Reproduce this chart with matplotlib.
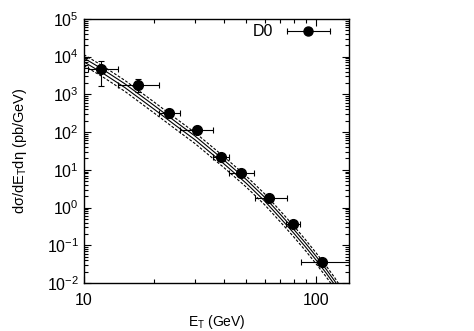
import numpy as np
import matplotlib
matplotlib.use("Agg")
import matplotlib.pyplot as plt
from matplotlib.ticker import LogLocator, NullFormatter, LogFormatterMathtext, FuncFormatter

plt.rcParams['font.family'] = ['Liberation Sans', 'DejaVu Sans']
plt.rcParams['mathtext.fontset'] = 'custom'
plt.rcParams['mathtext.rm'] = 'Liberation Sans'
plt.rcParams['mathtext.it'] = 'Liberation Sans:italic'

# D0 inclusive cross section points
et = [11.8, 17.1, 23.3, 30.7, 38.8, 47.5, 62.6, 79.5, 105.4]
et_lo = [10.4, 14.0, 21.0, 26.0, 36.0, 42.0, 54.6, 74.0, 85.6]
et_hi = [14.0, 21.0, 26.0, 36.0, 42.0, 54.0, 74.6, 85.0, 150.0]
xsec = [4720, 1775, 316, 114, 22.2, 8.2, 1.79, 0.365, 0.0358]
xsec_lo = [1660, 1180, 237, 93, 18.5, 7.0, 1.6, 0.30, 0.033]
xsec_hi = [7700, 2520, 415, 145, 27, 9.8, 2.0, 0.44, 0.039]

# theory band, log10 of dsigma/dEt deta
et_curve = [10, 12, 15, 20, 25, 30, 40, 50, 60, 70, 80, 90, 100, 110, 120, 130]
log_dash_hi = [4.05, 3.76, 3.37, 2.80, 2.35, 1.99, 1.35, 0.83, 0.36, -0.09,
               -0.49, -0.86, -1.21, -1.54, -1.86, -2.19]
log_solid_hi = [3.96, 3.67, 3.28, 2.71, 2.26, 1.90, 1.26, 0.74, 0.27, -0.18,
                -0.58, -0.95, -1.30, -1.63, -1.95, -2.28]
log_solid_lo = [3.86, 3.57, 3.18, 2.61, 2.16, 1.80, 1.16, 0.64, 0.17, -0.28,
                -0.68, -1.05, -1.40, -1.73, -2.05, -2.38]
log_dash_lo = [3.76, 3.47, 3.08, 2.51, 2.06, 1.70, 1.06, 0.54, 0.07, -0.38,
               -0.78, -1.15, -1.50, -1.83, -2.15, -2.48]

fig = plt.figure(figsize=(4.74, 3.31), dpi=100)
ax = fig.add_axes([0.177, 0.145, 0.559, 0.798])

ex = np.array(et)
ey = np.array(xsec)
xerr = [ex - np.array(et_lo), np.array(et_hi) - ex]
yerr = [ey - np.array(xsec_lo), np.array(xsec_hi) - ey]

for vals, ls in [(log_dash_hi, (0, (2.5, 1.5))), (log_solid_hi, '-'),
                 (log_solid_lo, '-'), (log_dash_lo, (0, (2.5, 1.5)))]:
    ax.plot(et_curve, 10 ** np.array(vals), color='black', lw=0.8, ls=ls)

ax.errorbar(ex, ey, xerr=xerr, yerr=yerr, fmt='o', color='black', ms=7,
            elinewidth=0.8, capsize=2.2, capthick=0.8)

# legend key: marker with horizontal bar only
ly = 0.953
ax.text(0.716, ly, 'D0', transform=ax.transAxes, ha='right', va='center', fontsize=11.5)
ax.plot([0.766, 0.928], [ly, ly], transform=ax.transAxes, color='black', lw=0.8)
ax.plot([0.766, 0.928], [ly, ly], transform=ax.transAxes, color='black',
        ls='none', marker='|', ms=4.4, mew=0.8)
ax.plot([0.845], [ly], transform=ax.transAxes, color='black', marker='o', ms=6.5)

ax.set_xscale('log')
ax.set_yscale('log')
ax.set_xlim(10, 138)
ax.set_ylim(1e-2, 1e5)

ax.xaxis.set_major_locator(LogLocator(base=10))
ax.xaxis.set_minor_locator(LogLocator(base=10, subs=np.arange(2, 10)))
ax.xaxis.set_minor_formatter(NullFormatter())
ax.xaxis.set_major_formatter(FuncFormatter(lambda v, p: '%d' % v))
ax.yaxis.set_major_locator(LogLocator(base=10, numticks=10))
ax.yaxis.set_minor_locator(LogLocator(base=10, subs=np.arange(2, 10), numticks=20))
ax.yaxis.set_major_formatter(LogFormatterMathtext())

ax.tick_params(which='both', direction='in', top=True, right=True, labelsize=11.5)
ax.tick_params(which='major', length=5, width=0.8)
ax.tick_params(which='minor', length=3, width=0.8)
ax.tick_params(axis='x', which='major', pad=7)
for s in ax.spines.values():
    s.set_linewidth(1.0)

ax.set_xlabel(r'E$_\mathregular{T}$ (GeV)', fontsize=10, labelpad=4)
ax.set_ylabel(r'dσ/dE$_\mathregular{T}$dη (pb/GeV)', fontsize=10.5, labelpad=13)

fig.savefig('out.png', dpi=100)
